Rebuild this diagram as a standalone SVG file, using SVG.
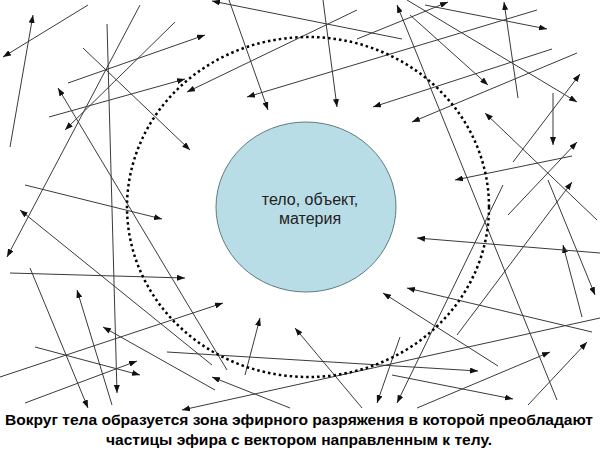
<svg xmlns="http://www.w3.org/2000/svg" width="600" height="452" viewBox="0 0 600 452">
<style>
.a{stroke:#3a3a3a;stroke-width:1;fill:none;marker-end:url(#ah)}
.dot{fill:none;stroke:#000;stroke-width:2.5;stroke-dasharray:2.5 3}
.t{font-family:"Liberation Sans",Arial,sans-serif;fill:#222}
.b{font-family:"Liberation Sans",Arial,sans-serif;font-weight:bold;font-size:14px;fill:#000}
</style>
<defs>
<marker id="ah" markerWidth="9" markerHeight="6" refX="8" refY="3" orient="auto" markerUnits="userSpaceOnUse">
<path d="M0,0 L8,3 L0,6 z" fill="#111"/>
</marker>
</defs>
<rect width="600" height="452" fill="#fff"/>
<g id="connectors">
<line class="a" x1="88" y1="5" x2="3" y2="57"/>
<line class="a" x1="10" y1="147" x2="33" y2="15"/>
<line class="a" x1="140" y1="5" x2="7" y2="257"/>
<line class="a" x1="107" y1="24" x2="117" y2="393"/>
<line class="a" x1="83" y1="48" x2="190" y2="150"/>
<line class="a" x1="68" y1="83" x2="205" y2="35"/>
<line class="a" x1="49" y1="117" x2="185" y2="79"/>
<line class="a" x1="227" y1="370" x2="58" y2="88"/>
<line class="a" x1="175" y1="22" x2="65" y2="130"/>
<line class="a" x1="402" y1="39" x2="212" y2="1"/>
<line class="a" x1="229" y1="0" x2="268" y2="110"/>
<line class="a" x1="357" y1="10" x2="187" y2="92"/>
<line class="a" x1="537" y1="10" x2="247" y2="97"/>
<line class="a" x1="323" y1="0" x2="337" y2="107"/>
<line class="a" x1="357" y1="39" x2="448" y2="2"/>
<line class="a" x1="425" y1="5" x2="547" y2="29"/>
<line class="a" x1="407" y1="0" x2="577" y2="102"/>
<line class="a" x1="410" y1="15" x2="488" y2="85"/>
<line class="a" x1="552" y1="49" x2="373" y2="107"/>
<line class="a" x1="577" y1="53" x2="412" y2="122"/>
<line class="a" x1="518" y1="98" x2="504" y2="2"/>
<line class="a" x1="553" y1="93" x2="553" y2="145"/>
<line class="a" x1="513" y1="162" x2="580" y2="74"/>
<line class="a" x1="597" y1="220" x2="485" y2="113"/>
<line class="a" x1="508" y1="215" x2="577" y2="142"/>
<line class="a" x1="572" y1="156" x2="455" y2="180"/>
<line class="a" x1="503" y1="185" x2="397" y2="403"/>
<line class="a" x1="457" y1="335" x2="572" y2="182"/>
<line class="a" x1="548" y1="180" x2="595" y2="295"/>
<line class="a" x1="582" y1="317" x2="563" y2="245"/>
<line class="a" x1="600" y1="253" x2="417" y2="238"/>
<line class="a" x1="557" y1="400" x2="397" y2="5"/>
<line class="a" x1="592" y1="332" x2="407" y2="288"/>
<line class="a" x1="498" y1="366" x2="383" y2="293"/>
<line class="a" x1="167" y1="352" x2="478" y2="371"/>
<line class="a" x1="600" y1="318" x2="182" y2="410"/>
<line class="a" x1="400" y1="337" x2="377" y2="403"/>
<line class="a" x1="392" y1="375" x2="513" y2="399"/>
<line class="a" x1="417" y1="408" x2="550" y2="352"/>
<line class="a" x1="528" y1="405" x2="587" y2="342"/>
<line class="a" x1="362" y1="408" x2="295" y2="328"/>
<line class="a" x1="290" y1="408" x2="212" y2="377"/>
<line class="a" x1="245" y1="375" x2="260" y2="318"/>
<line class="a" x1="0" y1="377" x2="223" y2="303"/>
<line class="a" x1="215" y1="390" x2="103" y2="327"/>
<line class="a" x1="212" y1="365" x2="20" y2="210"/>
<line class="a" x1="30" y1="268" x2="88" y2="408"/>
<line class="a" x1="112" y1="405" x2="77" y2="290"/>
<line class="a" x1="35" y1="347" x2="140" y2="375"/>
<line class="a" x1="25" y1="403" x2="137" y2="361"/>
<line class="a" x1="25" y1="185" x2="162" y2="219"/>
<line class="a" x1="10" y1="273" x2="185" y2="278"/>
</g>
<g id="zone">
<ellipse class="dot" cx="308" cy="207" rx="181" ry="170"/>
</g>
<g id="body">
<ellipse cx="306" cy="207" rx="90" ry="85" fill="#b9dde6" stroke="#5f7a80" stroke-width="1"/>
<text class="t" font-size="16" x="310" y="205" text-anchor="middle">тело, объект,</text>
<text class="t" font-size="16" x="310" y="224" text-anchor="middle">материя</text>
</g>
<g id="caption">
<text class="b" x="299" y="425" text-anchor="middle" textLength="588" lengthAdjust="spacingAndGlyphs">Вокруг тела образуется зона эфирного разряжения в которой преобладают</text>
<text class="b" x="299" y="445" text-anchor="middle" textLength="386" lengthAdjust="spacingAndGlyphs">частицы эфира с вектором направленным к телу.</text>
</g>
</svg>
